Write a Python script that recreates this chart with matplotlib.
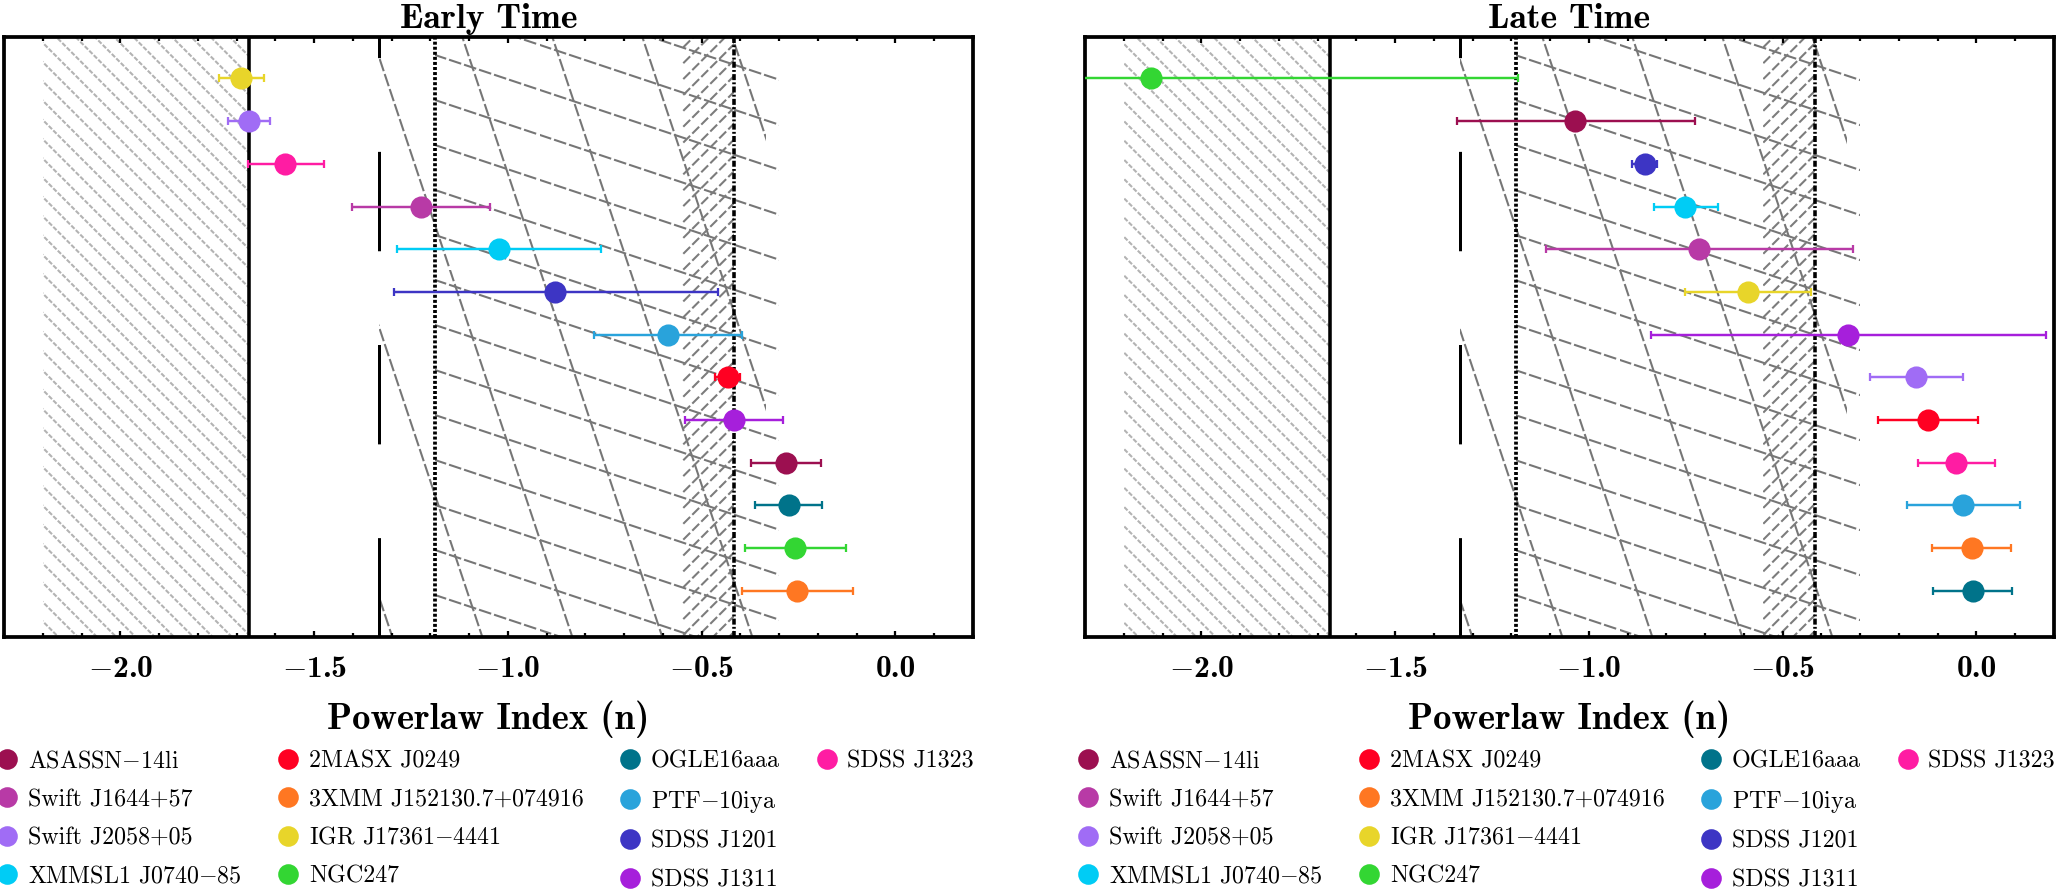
import numpy as np
import matplotlib
matplotlib.use('Agg')
import matplotlib.pyplot as plt
import matplotlib.hatch as mhatch
from matplotlib.path import Path
from matplotlib.lines import Line2D
from matplotlib.ticker import MultipleLocator

names = ['ASASSN$-$14li', 'Swift J1644+57', 'Swift J2058+05', 'XMMSL1 J0740$-$85',
         '2MASX J0249', '3XMM J152130.7+074916', 'IGR J17361$-$4441', 'NGC247',
         'OGLE16aaa', 'PTF$-$10iya', 'SDSS J1201', 'SDSS J1311', 'SDSS J1323']
colors = ['#9c0f50', '#b83aa6', '#a06cf5', '#00ccf5',
          '#ff0022', '#ff7722', '#e8d52a', '#33d633',
          '#00738a', '#29a3db', '#3d35c4', '#a61fdb', '#ff1ca3']

# powerlaw index and its lower / upper errors
early_n = [-0.283, -1.225, -1.667, -1.023, -0.433, -0.254, -1.689, -0.260,
           -0.274, -0.587, -0.878, -0.416, -1.574]
early_lo = [0.089, 0.178, 0.055, 0.263, 0.032, 0.141, 0.057, 0.129,
            0.088, 0.190, 0.417, 0.126, 0.096]
early_hi = [0.092, 0.180, 0.053, 0.263, 0.031, 0.144, 0.060, 0.133,
            0.085, 0.191, 0.419, 0.125, 0.099]

late_n = [-1.035, -0.715, -0.156, -0.751, -0.126, -0.012, -0.589, -2.131,
          -0.009, -0.034, -0.856, -0.331, -0.052]
late_lo = [0.305, 0.396, 0.120, 0.082, 0.129, 0.102, 0.164, 0.300,
           0.102, 0.145, 0.033, 0.509, 0.099]
late_hi = [0.309, 0.397, 0.120, 0.083, 0.131, 0.100, 0.163, 0.949,
           0.100, 0.145, 0.033, 0.511, 0.101]

xticks = [-2.0, -1.5, -1.0, -0.5, 0.0]
xtick_labels = ['$-$2.0', '$-$1.5', '$-$1.0', '$-$0.5', '0.0']

# theory reference indices
ref_n = [-5 / 3, -4 / 3, -19 / 16, -5 / 12]
# hatched allowed ranges (low, high)
band_lo = [-2.2, -4 / 3, -19 / 16, -0.55]
band_hi = [-5 / 3, -1 / 3, -0.3, -5 / 12]

DPI = 270
plt.rcParams['mathtext.fontset'] = 'cm'
plt.rcParams['font.family'] = 'cmr10'
plt.rcParams['hatch.linewidth'] = 0.55
plt.rcParams['lines.scale_dashes'] = False


# custom hatch tiles (dashed lines at odd angles), tile = 1 inch
def dashed_tile(lines, n_dash, duty):
    segs = []
    for (x0, y0), (x1, y1) in lines:
        for k in range(n_dash):
            a, b = k / n_dash, (k + duty) / n_dash
            segs.append([(x0 + a * (x1 - x0), y0 + a * (y1 - y0)),
                         (x0 + b * (x1 - x0), y0 + b * (y1 - y0))])
    return segs


class TileHatch(mhatch.HatchPatternBase):
    tiles = {
        'a': dashed_tile([((0, c), (1, c - 1)) for c in np.arange(0, 29) / 14], 60, 0.4),
        'b': dashed_tile([((c, 1), (c + 1 / 3, 0)) for c in np.arange(-1, 4) / 3], 18, 0.68),
        'c': dashed_tile([((0, c), (1, c - 1 / 3)) for c in np.arange(0, 9) / 6], 18, 0.68),
        'd': dashed_tile([((0, c), (1, c + 1)) for c in np.arange(-17, 18) / 17], 30, 0.6),
    }

    def __init__(self, hatch, density):
        self.segs = [s for ch in hatch for s in self.tiles.get(ch, [])]
        self.num_vertices = 2 * len(self.segs)

    def set_vertices_and_codes(self, vertices, codes):
        vertices[:] = np.asarray(self.segs).reshape(-1, 2)
        codes[0::2] = Path.MOVETO
        codes[1::2] = Path.LINETO


mhatch._hatch_types.append(TileHatch)
mhatch._validate_hatch_pattern = lambda hatch: None

band_hatch = ['a', 'b', 'c', 'd']
band_color = ['#b3b3b3', '#767676', '#767676', '#7c7c7c']
ref_style = ['-', (0, (26.5, 25)), (0, (0.8, 0.55)), (0, (1.6, 0.6, 0.5, 0.6))]
ref_lw = [0.95, 0.8, 1.0, 0.95]


def draw_panel(ax, title, n, lo, hi):
    for x0, x1, h, c in zip(band_lo, band_hi, band_hatch, band_color):
        ax.axvspan(x0, x1, facecolor='none', edgecolor=c, lw=0, hatch=h, zorder=0.5)
    for x, ls, lw in zip(ref_n, ref_style, ref_lw):
        ax.axvline(x, color='black', ls=ls, lw=lw, zorder=2)

    order = np.argsort(n)
    rows = np.empty(len(n))
    rows[order] = np.arange(len(n))[::-1] + 1
    for i in range(len(n)):
        ax.errorbar(n[i], rows[i], xerr=[[lo[i]], [hi[i]]], fmt='o', color=colors[i],
                    ms=4.9, elinewidth=0.65, capsize=1.1, capthick=0.6, zorder=4)

    ax.set_xlim(-2.3, 0.2)
    ax.set_ylim(-0.08, 13.97)
    ax.set_yticks([])
    ax.set_xticks(xticks)
    ax.set_xticklabels(xtick_labels, fontfamily='cmb10', fontsize=8.4)
    ax.xaxis.set_minor_locator(MultipleLocator(0.1))
    ax.tick_params(axis='x', which='both', direction='in', top=True, pad=5.0, width=0.6)
    ax.tick_params(axis='x', which='major', length=1.6)
    ax.tick_params(axis='x', which='minor', length=1.0)
    for sp in ax.spines.values():
        sp.set_linewidth(1.0)
    ax.set_title(title, fontfamily='cmb10', fontsize=9.5, pad=2.5)
    ax.set_xlabel('Powerlaw Index (n)', fontfamily='cmb10', fontsize=9.8, labelpad=4.6)

    handles = [Line2D([], [], marker='o', ls='none', color=c, ms=4.5) for c in colors]
    labels = list(names)
    # pad so that the 4th column only holds the last entry
    for _ in range(3):
        handles.append(Line2D([], [], ls='none'))
        labels.append('')
    ax.legend(handles, labels, loc='upper left', bbox_to_anchor=(-0.004, -0.189),
              ncol=4, frameon=False, fontsize=6.4, borderaxespad=0, borderpad=0,
              handlelength=0.6, handletextpad=0.55, columnspacing=1.65,
              labelspacing=0.67)


fig = plt.figure(figsize=(2060 / DPI, 890 / DPI), dpi=DPI)
ax1 = fig.add_axes([4 / 2060, 1 - 637 / 890, 969 / 2060, 600 / 890])
ax2 = fig.add_axes([1085 / 2060, 1 - 637 / 890, 969 / 2060, 600 / 890])
draw_panel(ax1, 'Early Time', early_n, early_lo, early_hi)
draw_panel(ax2, 'Late Time', late_n, late_lo, late_hi)

fig.savefig('out.png', dpi=DPI)
